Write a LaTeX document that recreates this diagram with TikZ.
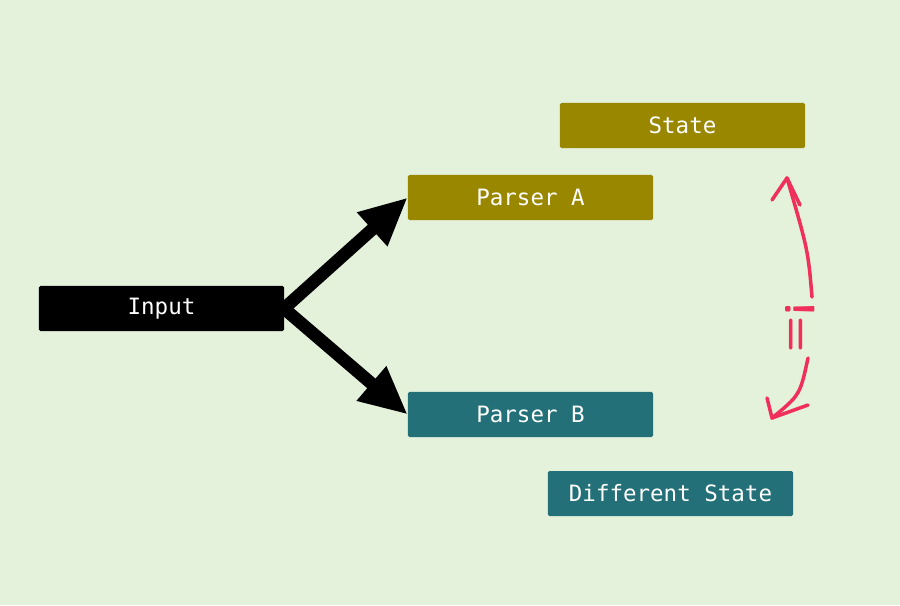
\documentclass[tikz,border=0pt]{standalone}
\usepackage{fontspec}
\setmonofont{DejaVu Sans Mono}
\usetikzlibrary{arrows.meta}
\definecolor{bg}{HTML}{E4F2DC}
\definecolor{olive}{HTML}{9A8700}
\definecolor{teal}{HTML}{237078}
\definecolor{redp}{HTML}{F0305A}
\begin{document}
\begin{tikzpicture}[x=0.025cm,y=-0.025cm,
  box/.style={minimum width=6.125cm,minimum height=1.125cm,inner sep=0pt,rounded corners=1pt,text=white,font=\ttfamily\fontsize{16}{19}\selectfont},
  fat/.style={line width=9pt,-{Triangle[length=34pt,width=30pt]}},
  red/.style={draw=redp,line width=2.5pt,line cap=round,line join=round}]
\fill[bg] (0,0) rectangle (900,605);
\node[box,fill=olive] (state) at (682.5,125.5) {State};
\node[box,fill=olive] (pa) at (530.5,197.5) {Parser A};
\node[box,fill=black] (in) at (161.5,308.5) {Input};
\node[box,fill=teal] (pb) at (530.5,414.5) {Parser B};
\node[box,fill=teal] (ds) at (670.5,493.5) {Different State};
\coordinate (j) at (284,308.5);
\draw[fat] (j) -- (pa.west);
\draw[fat] (j) -- (pb.west);
\coordinate (u1) at (812,297);
\coordinate (u2) at (787,178);
\draw[red] (u1) .. controls (808,250) .. (u2);
\draw[red] (772,200) -- (u2) -- (800,205);
\coordinate (l1) at (808,358);
\coordinate (l2) at (772,418);
\draw[red] (l1) .. controls (800,395) .. (l2);
\draw[red] (767,398) -- (l2) -- (808,405);
\node[text=redp,font=\sffamily\bfseries\fontsize{30}{30}\selectfont,rotate=-90] (ne) at (800,327) {!=};
\end{tikzpicture}
\end{document}
